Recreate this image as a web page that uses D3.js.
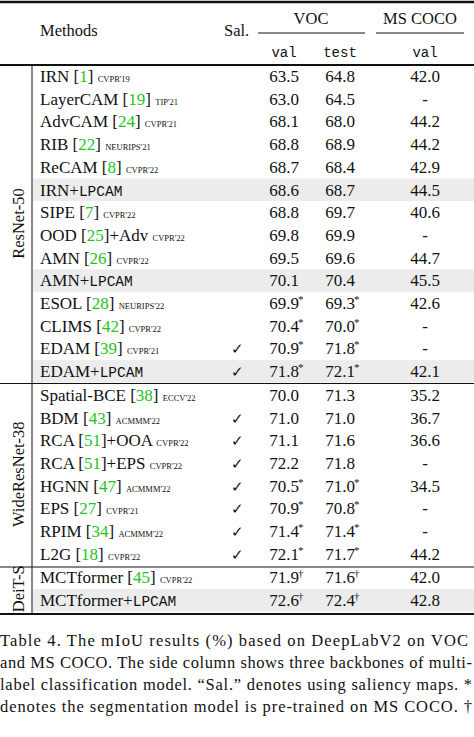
<!DOCTYPE html>
<html><head><meta charset="utf-8">
<script src="https://cdn.jsdelivr.net/npm/d3@7"></script>
<style>body{margin:0;background:#fff}</style>
</head><body><svg id="c" width="474" height="737"></svg>
<script>
// methods: [name, ref, venue, lpcam]
const methods = [
  ["IRN", "1", "CVPR'19"], ["LayerCAM", "19", "TIP'21"], ["AdvCAM", "24", "CVPR'21"],
  ["RIB", "22", "NeurIPS'21"], ["ReCAM", "8", "CVPR'22"], ["IRN", null, null, true],
  ["SIPE", "7", "CVPR'22"], ["OOD", "25", "+Adv CVPR'22"], ["AMN", "26", "CVPR'22"],
  ["AMN", null, null, true], ["ESOL", "28", "NeurIPS'22"], ["CLIMS", "42", "CVPR'22"],
  ["EDAM", "39", "CVPR'21"], ["EDAM", null, null, true],
  ["Spatial-BCE", "38", "ECCV'22"], ["BDM", "43", "ACMMM'22"], ["RCA", "51", "+OOA CVPR'22"],
  ["RCA", "51", "+EPS CVPR'22"], ["HGNN", "47", "ACMMM'22"], ["EPS", "27", "CVPR'21"],
  ["RPIM", "34", "ACMMM'22"], ["L2G", "18", "CVPR'22"],
  ["MCTformer", "45", "CVPR'22"], ["MCTformer", null, null, true]
];
const sal = [0,0,0,0,0,0,0,0,0,0,0,0,1,1, 0,1,1,1,1,1,1,1, 0,0];
const vocVal = ["63.5","63.0","68.1","68.8","68.7","68.6","68.8","69.8","69.5","70.1","69.9*","70.4*","70.9*","71.8*",
  "70.0","71.0","71.1","72.2","70.5*","70.9*","71.4*","72.1*","71.9†","72.6†"];
const vocTest = ["64.8","64.5","68.0","68.9","68.4","68.7","69.7","69.9","69.6","70.4","69.3*","70.0*","71.8*","72.1*",
  "71.3","71.0","71.6","71.8","71.0*","70.8*","71.4*","71.7*","71.6†","72.4†"];
const cocoVal = ["42.0","-","44.2","44.2","42.9","44.5","40.6","-","44.7","45.5","42.6","-","-","42.1",
  "35.2","36.7","36.6","-","34.5","-","-","44.2","42.0","42.8"];
const backbones = [["ResNet-50", 0, 14], ["WideResNet-38", 14, 22], ["DeiT-S", 22, 24]];
const caption = [
  "Table 4.  The mIoU results (%) based on DeepLabV2 on VOC",
  "and MS COCO. The side column shows three backbones of multi-",
  "label classification model. \u201cSal.\u201d denotes using saliency maps. *",
  "denotes the segmentation model is pre-trained on MS COCO. \u2020"
];

const SERIF = "Liberation Serif, Times New Roman, DejaVu Serif, serif";
const MONO = "Liberation Mono, DejaVu Sans Mono, monospace";
const svg = d3.select("#c").attr("font-family", SERIF).attr("fill", "#111");
const y = d3.scaleLinear().domain([0, 1]).range([82, 104.7]);
const rowY = i => y(i) + (i >= 14 ? 1 : 0) + (i >= 22 ? 1 : 0);
const colX = {sal: 237, val: 284, test: 340, coco: 425};

// highlighted rows
methods.forEach((m, i) => {
  if (m[3]) svg.append("rect").attr("x", 33).attr("width", 441).attr("y", rowY(i) - 17).attr("height", 22.5).attr("fill", "#ececec");
});

// rules
const hline = (x1, x2, yy, w) => svg.append("line").attr("x1", x1).attr("x2", x2).attr("y1", yy).attr("y2", yy).attr("stroke", "#111").attr("stroke-width", w);
hline(0, 474, 2, 2.5);
hline(258, 365, 33, 1);
hline(376, 464, 33, 1);
hline(0, 474, 65, 1.8);
hline(0, 474, 383.5, 1);
hline(0, 474, 567, 1);
hline(0, 474, 614, 2);
svg.append("line").attr("x1", 32).attr("x2", 32).attr("y1", 65).attr("y2", 614).attr("stroke", "#111").attr("stroke-width", 1);

// headers
svg.append("text").attr("x", 40).attr("y", 36).attr("font-size", 16.5).text("Methods");
svg.append("text").attr("x", 224).attr("y", 36).attr("font-size", 16.5).text("Sal.");
svg.append("text").attr("x", 311).attr("y", 24).attr("text-anchor", "middle").attr("font-size", 16.5).text("VOC");
svg.append("text").attr("x", 420).attr("y", 24).attr("text-anchor", "middle").attr("font-size", 16.5).text("MS COCO");
[["val", colX.val], ["test", colX.test], ["val", colX.coco]].forEach(d =>
  svg.append("text").attr("font-family", MONO).attr("x", d[1]).attr("y", 57).attr("text-anchor", "middle").attr("font-size", 14).text(d[0]));

// backbone labels
backbones.forEach(b => {
  const cy = (rowY(b[1]) + rowY(b[2] - 1)) / 2 - 6;
  svg.append("text").attr("transform", `translate(24,${cy}) rotate(-90)`).attr("text-anchor", "middle").attr("font-size", 16.5).text(b[0]);
});

// rows
methods.forEach((m, i) => {
  const t = svg.append("text").attr("x", 40).attr("y", rowY(i)).attr("font-size", 17);
  if (m[3]) {
    t.append("tspan").text(m[0] + "+");
    t.append("tspan").attr("font-family", MONO).attr("font-size", 14.5).text("LPCAM");
  } else {
    t.append("tspan").text(m[0] + " [");
    t.append("tspan").attr("fill", "#22c322").text(m[1]);
    let extra = m[2], plus = "";
    if (extra.startsWith("+")) { plus = extra.split(" ")[0]; extra = extra.split(" ")[1]; }
    t.append("tspan").text("]" + plus + " ");
    t.append("tspan").attr("font-size", 8.5).text(extra.toUpperCase());
  }
  if (sal[i]) svg.append("text").attr("x", colX.sal).attr("y", rowY(i)).attr("text-anchor", "middle").attr("font-size", 15).text("\u2713");
  [[vocVal[i], colX.val], [vocTest[i], colX.test], [cocoVal[i], colX.coco]].forEach(d => {
    const v = d[0], mark = /[*†]$/.test(v) ? v.slice(-1) : "";
    const num = mark ? v.slice(0, -1) : v;
    svg.append("text").attr("x", d[1]).attr("y", rowY(i)).attr("text-anchor", "middle").attr("font-size", 17).text(num);
    if (mark) svg.append("text").attr("x", d[1] + 14).attr("y", rowY(i) - 6).attr("font-size", 11).text(mark);
  });
});

// caption
caption.forEach((c, i) => {
  svg.append("text").attr("x", 0).attr("y", 646 + i * 22).attr("font-size", 16.5)
    .attr("textLength", i === 0 ? 468 : 472).attr("lengthAdjust", "spacing").text(c);
});
</script></body></html>
